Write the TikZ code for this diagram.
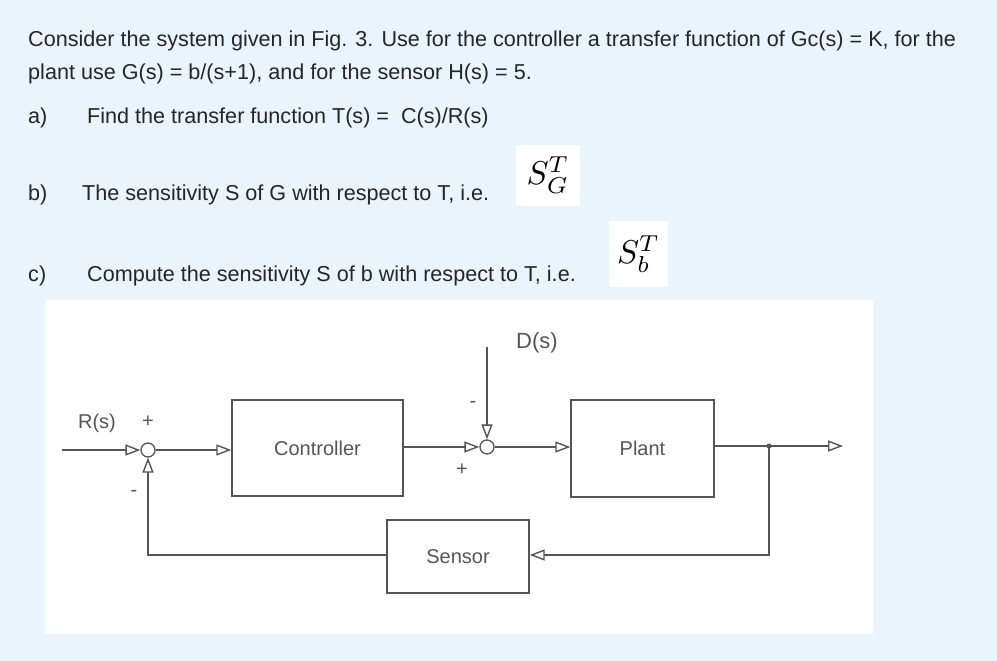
\documentclass[tikz,border=0pt]{standalone}
\usepackage{fontspec}
\setmainfont{Liberation Sans}
\newfontfamily\hand{Liberation Sans}
\usetikzlibrary{arrows.meta}
\definecolor{bg}{HTML}{EAF4FC}
\definecolor{pen}{HTML}{555555}
\begin{document}
\begin{tikzpicture}[x=1pt,y=-1pt,
  txt/.style={anchor=base west,inner sep=0pt,font=\fontsize{21.6}{24}\selectfont,text=black!85},
  blk/.style={draw=pen,line width=1.4pt,minimum width=#1,inner sep=0pt},
  sum/.style={circle,draw=pen,line width=1.3pt,minimum size=14pt,inner sep=0pt},
  sig/.style={draw=pen,line width=1.4pt},
  arr/.style={sig,-{Triangle[open,length=15pt,width=11pt,line width=1.4pt]}},
  lab/.style={font=\hand\fontsize{20}{22}\selectfont,text=pen,inner sep=0pt},
  mbox/.style={fill=white,inner sep=0pt}]
\useasboundingbox (0,0) rectangle (997,661);
\fill[bg] (0,0) rectangle (997,661);
\node[txt] (l1) at (28,47) {Consider the system given in Fig. 3. Use for the controller a transfer function of Gc(s) = K, for the};
\node[txt] (l2) at (28,80) {plant use G(s) = b/(s+1), and for the sensor H(s) = 5.};
\node[txt] (la) at (28,124) {a)};
\node[txt] (ta) at (87,124) {Find the transfer function T(s) =\ \ C(s)/R(s)};
\node[txt] (lb) at (28,200) {b)};
\node[txt] (tb) at (82,200) {The sensitivity S of G with respect to T, i.e.};
\node[txt] (lc) at (28,281) {c)};
\node[txt] (tc) at (87,281) {Compute the sensitivity S of b with respect to T, i.e.};
\node[mbox,minimum width=64pt,minimum height=61pt] (m1) at (548,175.5) {\scalebox{3.3}{$S^{T}_{G}$}};
\node[mbox,minimum width=59pt,minimum height=66pt] (m2) at (638.5,254) {\scalebox{3.3}{$S^{T}_{b}$}};
% diagram panel
\fill[white] (45,300) rectangle (873,634);
\node[sum] (s1) at (148,450) {};
\node[sum] (s2) at (487,447) {};
\node[blk=171pt,minimum height=96pt] (ctrl) at (317.5,448) {};
\node[lab] at (ctrl) {Controller};
\node[blk=143pt,minimum height=97pt] (plant) at (642.5,448.5) {};
\node[lab] at (plant) {Plant};
\node[blk=142pt,minimum height=73pt] (sens) at (458,556.5) {};
\node[lab] at (sens) {Sensor};
\coordinate (in) at (62,450);
\coordinate (dtop) at (487,347);
\coordinate (br) at (769,446);
\coordinate (out) at (843,446);
\coordinate (fb1) at (769,555);
\coordinate (fb2) at (148,555);
\draw[arr] (in) -- (s1);
\draw[arr] (s1) -- (ctrl.west |- s1);
\draw[arr] (ctrl.east |- s2) -- (s2);
\draw[arr] (dtop) -- (s2);
\draw[arr] (s2) -- (plant.west |- s2);
\draw[sig] (plant.east |- br) -- (br);
\draw[arr] (br) -- (out);
\fill[pen] (br) circle (2.5pt);
\draw[arr] (br) -- (fb1) -- (sens.east |- fb1);
\draw[arr] (sens.west |- fb2) -- (fb2) -- (s1.south);
\node[lab] (rs) at (97,423) {R(s)};
\node[lab] (p1) at (148,422) {+};
\node[lab] (m1s) at (134,493) {-};
\node[lab] (m2s) at (473,404) {-};
\node[lab] (p2) at (462,470) {+};
\node[lab,font=\hand\fontsize{22}{24}\selectfont] (ds) at (537,343) {D(s)};
\end{tikzpicture}
\end{document}
